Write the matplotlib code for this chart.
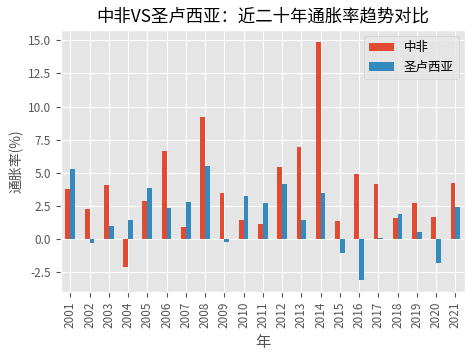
import numpy as np
import pandas as pd
import matplotlib
matplotlib.use("Agg")
import matplotlib.pyplot as plt

plt.style.use('ggplot')
plt.rcParams['font.family'] = ['Noto Sans CJK SC', 'DejaVu Sans']
plt.rcParams['axes.unicode_minus'] = False

years = [str(y) for y in range(2001, 2022)]
car = [3.80, 2.30, 4.12, -2.10, 2.85, 6.67, 0.95, 9.22, 3.50, 1.47, 1.17,
       5.47, 6.95, 14.88, 1.38, 4.92, 4.17, 1.60, 2.70, 1.70, 4.25]
lca = [5.30, -0.25, 1.00, 1.45, 3.87, 2.37, 2.80, 5.55, -0.17, 3.25, 2.75,
       4.20, 1.45, 3.50, -1.00, -3.07, 0.07, 1.92, 0.52, -1.78, 2.40]

df = pd.DataFrame({'中非': car, '圣卢西亚': lca}, index=years)

fig = plt.figure(figsize=(4.74, 3.53), dpi=100)
ax = fig.add_axes([0.128, 0.173, 0.853, 0.742])
df.plot(kind='bar', ax=ax)

ax.set_title('中非VS圣卢西亚：近二十年通胀率趋势对比', fontsize=12.5, color='black')
ax.set_xlabel('年', fontsize=11)
ax.set_ylabel('通胀率(%)', fontsize=10)
ax.tick_params(axis='both', labelsize=8.5)
ax.legend(loc='upper right', fontsize=9)

fig.savefig('out.png', dpi=100)
